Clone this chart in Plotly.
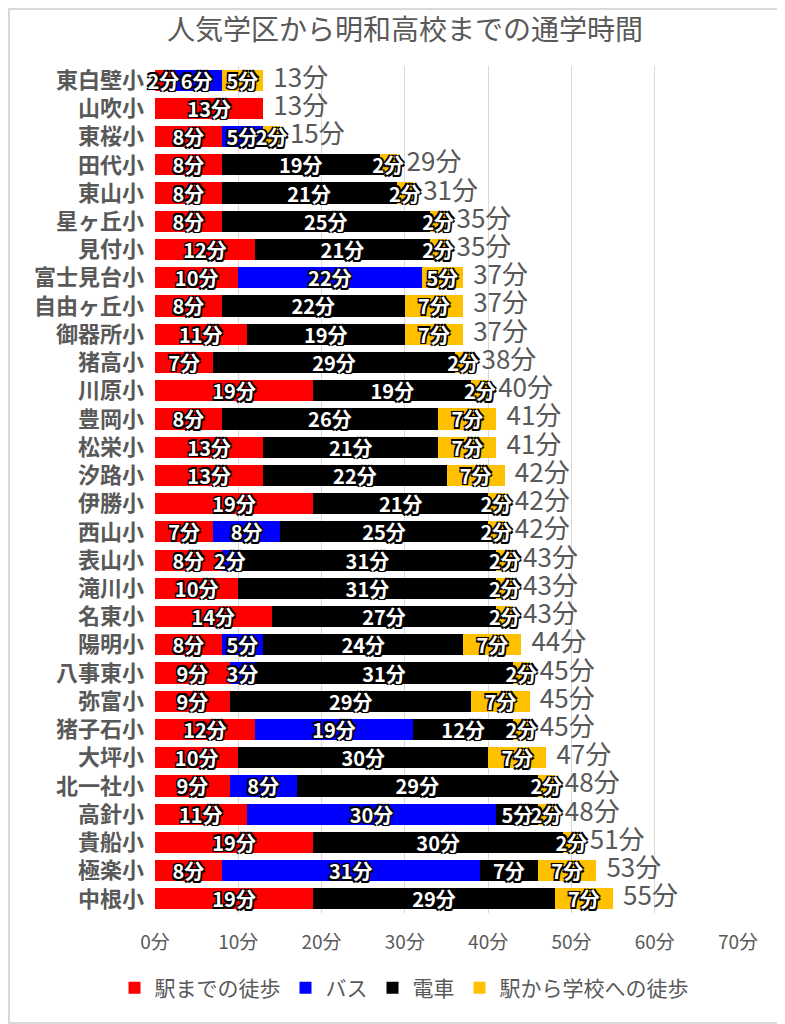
import plotly.graph_objects as go

# 学区ごとの通学時間（分）
schools = [
    "東白壁小", "山吹小", "東桜小", "田代小", "東山小", "星ヶ丘小", "見付小",
    "富士見台小", "自由ヶ丘小", "御器所小", "猪高小", "川原小", "豊岡小", "松栄小",
    "汐路小", "伊勝小", "西山小", "表山小", "滝川小", "名東小", "陽明小",
    "八事東小", "弥富小", "猪子石小", "大坪小", "北一社小", "高針小", "貴船小",
    "極楽小", "中根小",
]
walk_to_station = [2, 13, 8, 8, 8, 8, 12, 10, 8, 11, 7, 19, 8, 13, 13, 19, 7, 8, 10, 14,
                   8, 9, 9, 12, 10, 9, 11, 19, 8, 19]
bus = [6, 0, 5, 0, 0, 0, 0, 22, 0, 0, 0, 0, 0, 0, 0, 0, 8, 2, 0, 0,
       5, 3, 0, 19, 0, 8, 30, 0, 31, 0]
train = [0, 0, 0, 19, 21, 25, 21, 0, 22, 19, 29, 19, 26, 21, 22, 21, 25, 31, 31, 27,
         24, 31, 29, 12, 30, 29, 5, 30, 7, 29]
walk_to_school = [5, 0, 2, 2, 2, 2, 2, 5, 7, 7, 2, 2, 7, 7, 7, 2, 2, 2, 2, 2,
                  7, 2, 7, 2, 7, 2, 2, 2, 7, 7]

series = [
    ("駅までの徒歩", walk_to_station, "#FF0000"),
    ("バス", bus, "#0000FF"),
    ("電車", train, "#000000"),
    ("駅から学校への徒歩", walk_to_school, "#FFC000"),
]

totals = [a + b + c + d for a, b, c, d in zip(walk_to_station, bus, train, walk_to_school)]

outline = ("-1.5px -1.5px 0 #000, 1.5px -1.5px 0 #000, -1.5px 1.5px 0 #000, "
           "1.5px 1.5px 0 #000, 0 0 2px #000")
font = "Noto Sans CJK JP"

# page body adds 8px margin, so the figure is 8px smaller than the window
W, H = 777, 1016
L, R, T, B = 147, 47, 58, 111
pw, ph = W - L - R, H - T - B

fig = go.Figure()
# coloured stacks
for name, values, color in series:
    fig.add_trace(go.Bar(
        name=name,
        x=values,
        y=schools,
        orientation="h",
        marker=dict(color=color, line=dict(width=0)),
        hoverinfo="x+y+name",
    ))

# same stacks again, transparent, on an overlaid axis so the labels sit above every bar
for name, values, color in series:
    fig.add_trace(go.Bar(
        name=name,
        x=values,
        y=schools,
        yaxis="y2",
        orientation="h",
        marker=dict(color="rgba(0,0,0,0)", line=dict(width=0)),
        text=[f"{v}分" if v else "" for v in values],
        textposition="inside",
        insidetextanchor="middle",
        textangle=0,
        constraintext="none",
        cliponaxis=False,
        textfont=dict(family=font, size=20, color="white", weight="bold", shadow=outline),
        showlegend=False,
        hoverinfo="skip",
    ))

fig.add_trace(go.Scatter(
    x=[t + 1.2 for t in totals],
    y=schools,
    yaxis="y2",
    mode="text",
    text=[f"{t}分" for t in totals],
    textposition="middle right",
    textfont=dict(family=font, size=26, color="#595959"),
    showlegend=False,
    hoverinfo="skip",
    cliponaxis=False,
))

fig.update_layout(
    width=W,
    height=H,
    barmode="stack",
    bargap=0.25,
    plot_bgcolor="white",
    paper_bgcolor="white",
    font=dict(family=font, color="#595959"),
    title=dict(
        text="人気学区から明和高校までの通学時間",
        x=397 / W, xanchor="center",
        y=1 - 22 / H, yanchor="middle",
        font=dict(family=font, size=28, color="#595959"),
    ),
    margin=dict(l=L, r=R, t=T, b=B, autoexpand=False),
    legend=dict(
        orientation="h",
        x=(396 - L) / pw, xanchor="center",
        y=-75 / ph, yanchor="middle",
        font=dict(family=font, size=21, color="#595959"),
        itemwidth=30,
        traceorder="normal",
    ),
    yaxis2=dict(
        overlaying="y",
        range=[len(schools) - 0.5, -0.5],
        categoryorder="array",
        categoryarray=schools,
        visible=False,
    ),
    shapes=[dict(
        type="rect", xref="paper", yref="paper",
        x0=-(L - 1) / pw, x1=1 + (R - 1) / pw, y0=-(B - 1) / ph, y1=1 + (T - 1) / ph,
        line=dict(color="#d9d9d9", width=2),
    )],
)

fig.update_xaxes(
    range=[0, 70],
    dtick=10,
    ticksuffix="分",
    showgrid=True,
    gridcolor="#d9d9d9",
    zeroline=False,
    showline=False,
    ticks="",
    tickfont=dict(family=font, size=19, color="#595959"),
    ticklabelstandoff=16,
    automargin=False,
)
fig.update_layout(yaxis=dict(
    range=[len(schools) - 0.5, -0.5],
    categoryorder="array",
    categoryarray=schools,
    showgrid=False,
    ticks="",
    tickfont=dict(family=font, size=22, color="#595959", weight="bold"),
    ticklabelstandoff=10,
    automargin=False,
))

fig.write_html("out.html")
